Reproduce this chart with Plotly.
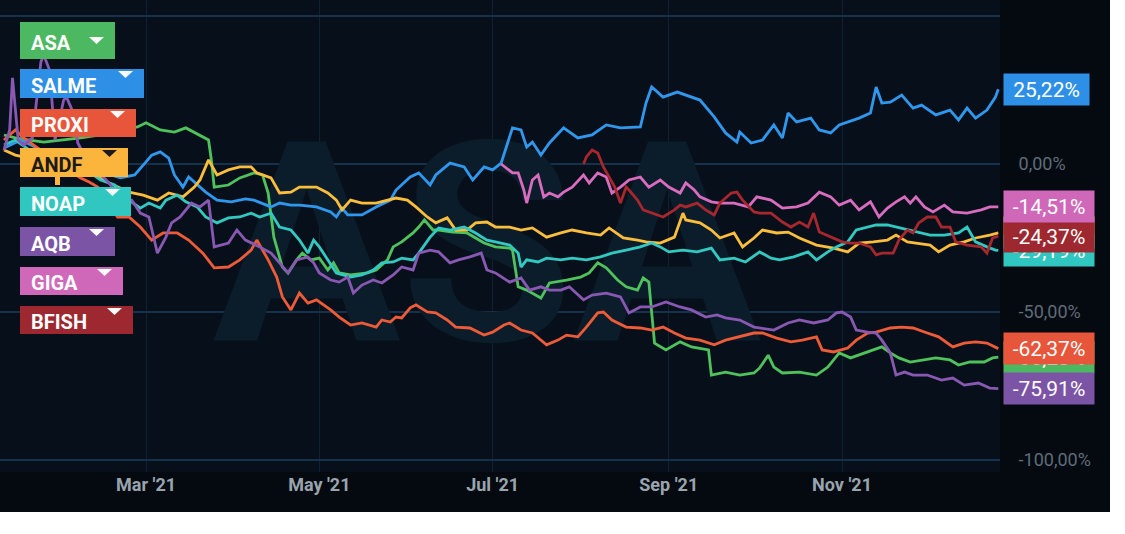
import plotly.graph_objects as go
import pandas as pd

BASE = pd.Timestamp("2021-01-01")

# ---------------- data (day-of-year offsets from 2021-01-01, % change) ----------------
asa_day = [9,13,18,23,29,36,43,50,56,59,64,69,73,78,81,82,83,88,92,97,100,102,103,104,107,109,112,114,117,120,
           123,125,127,131,137,140,144,146,149,153,155,157,160,162,167,172,178,182,187,188,190,193,198,201,207,212,
           215,218,221,225,228,232,234,236,237,238,242,247,251,257,258,263,268,273,275,278,280,283,289,295,299,303,
           307,310,315,318,321,324,328,332,337,342,345,349,354,357,359]
asa_val = [9.8,8.8,8.1,7.4,8.1,8.8,9.8,11.5,12.5,13.9,11.5,10.8,12.2,9.8,8.1,1.4,-7.8,-7.1,-4.7,-3.0,-3.7,-9.8,
           -16.6,-24.7,-34.8,-36.8,-32.4,-30.1,-32.4,-31.8,-35.8,-33.4,-36.8,-37.5,-36.8,-35.8,-32.4,-28.0,-26.3,-23.3,
           -21.3,-18.9,-22.3,-22.3,-23.0,-23.3,-26.7,-28.0,-28.4,-29.1,-41.5,-42.6,-45.3,-40.2,-39.2,-38.2,-36.8,-33.4,
           -35.1,-39.2,-41.5,-42.6,-38.5,-39.9,-50.3,-60.5,-62.8,-60.1,-61.8,-62.8,-71.3,-70.3,-71.3,-70.6,-68.9,-64.6,
           -68.6,-70.6,-70.3,-71.3,-68.6,-63.8,-65.5,-64.5,-62.8,-61.8,-63.8,-65.5,-66.9,-66.2,-65.5,-66.2,-67.9,-66.9,
           -66.9,-65.5,-65.23]

salme_day = [9,15,22,29,36,43,50,55,59,61,64,67,69,72,74,77,80,84,89,94,97,103,106,110,113,119,124,126,128,130,
             135,140,145,147,152,155,159,161,166,171,174,178,181,184,186,188,191,193,195,198,201,206,211,216,221,226,
             233,235,237,241,246,249,254,259,263,267,268,272,276,280,283,285,288,293,296,300,303,310,314,316,318,321,
             325,329,332,337,342,345,348,351,355,358,359]
salme_val = [5.4,8.1,4.7,2.0,-0.3,-2.7,-4.7,-3.7,0.7,3.0,4.1,2.0,-3.7,-7.8,-4.4,-7.1,-9.5,-12.2,-12.8,-11.8,-12.2,
             -14.5,-13.2,-13.9,-13.9,-14.5,-16.2,-17.9,-14.9,-17.2,-17.2,-14.5,-12.2,-8.8,-4.4,-3.0,-7.1,-3.7,0.3,-1.0,
             -5.4,-1.0,-2.0,0.3,6.4,12.2,11.5,5.7,7.4,3.0,7.1,12.2,8.8,9.8,13.2,12.2,12.5,20.6,26.0,22.6,24.3,23.3,21.6,
             15.9,10.5,7.4,10.8,7.1,8.1,13.2,8.8,17.2,14.2,15.5,11.5,10.5,13.2,15.5,17.2,26.0,20.6,20.9,23.3,18.9,19.9,
             16.6,18.2,14.9,18.9,15.5,18.2,22.6,25.22]

proxi_day = [9,13,16,22,29,36,39,42,46,49,53,57,61,65,70,74,79,83,88,92,96,98,102,105,107,110,113,116,119,124,
             127,131,135,140,142,145,147,149,152,154,158,161,165,168,173,178,181,185,187,191,195,200,204,207,211,214,
             218,220,223,228,233,237,241,245,249,254,259,263,268,273,276,281,286,290,295,297,301,306,309,313,316,321,
             325,329,334,338,343,347,351,355,359]
proxi_val = [8.1,11.5,8.8,4.7,-0.3,-4.7,-6.1,-7.8,-13.9,-17.9,-17.9,-21.3,-25.7,-23.3,-23.3,-25.7,-30.1,-35.1,-34.8,
             -32.4,-29.1,-25.7,-32.4,-38.2,-44.9,-49.3,-43.6,-47.0,-45.9,-49.3,-51.7,-54.4,-53.7,-55.1,-52.7,-53.4,-51.7,
             -52.0,-48.6,-47.6,-50.0,-50.3,-52.7,-55.1,-55.4,-57.8,-56.8,-54.4,-53.7,-56.1,-57.1,-61.1,-59.5,-57.8,-58.4,
             -55.1,-50.3,-50.0,-52.7,-55.1,-55.4,-56.1,-55.1,-57.1,-58.8,-59.5,-61.1,-59.5,-58.4,-57.1,-57.1,-58.8,-60.1,
             -59.5,-58.4,-62.8,-63.5,-62.2,-59.5,-57.1,-56.8,-55.4,-55.1,-55.4,-57.1,-58.4,-61.8,-60.5,-60.1,-60.5,-62.37]

andf_day = [9,13,18,25,32,39,46,53,58,63,67,72,76,78,81,84,88,92,96,98,103,106,110,113,119,123,126,128,131,135,
            140,144,147,151,154,158,161,165,168,172,175,179,182,187,191,195,200,205,209,214,219,222,227,232,235,240,
            245,248,249,254,258,261,266,269,273,276,281,285,289,295,301,306,310,315,320,323,327,330,335,338,342,347,
            351,356,359]
andf_val = [4.7,3.0,2.0,0.7,-0.3,-2.7,-6.4,-9.5,-10.5,-12.2,-9.8,-11.1,-7.8,-5.4,1.4,-3.7,-2.0,-1.0,-1.0,-3.0,-4.7,
            -9.8,-9.5,-7.8,-7.8,-9.8,-12.2,-15.5,-12.2,-13.2,-13.2,-12.2,-11.5,-12.2,-14.5,-17.9,-19.9,-18.2,-22.3,-22.3,
            -19.9,-19.6,-21.3,-21.3,-22.3,-21.6,-24.7,-23.3,-22.3,-23.3,-24.0,-21.6,-25.0,-25.7,-26.3,-26.7,-24.7,-16.6,
            -18.9,-19.9,-22.3,-25.0,-23.3,-28.0,-25.0,-22.3,-23.3,-23.0,-25.0,-27.4,-28.4,-29.7,-26.7,-26.3,-25.7,-24.0,
            -26.3,-26.7,-27.4,-29.7,-27.4,-26.3,-25.0,-24.0,-23.3]

noap_day = [9,13,18,25,32,39,43,48,53,57,60,64,66,70,73,77,80,84,88,92,96,99,103,106,110,113,116,118,120,123,
            126,131,135,139,142,146,149,153,155,159,162,166,171,175,179,182,187,190,191,193,197,200,205,209,214,219,
            223,228,233,237,240,243,248,253,258,261,266,270,275,279,282,287,292,295,299,302,306,309,313,316,320,323,
            327,330,335,340,345,348,351,355,358,359]
noap_val = [6.4,8.1,4.7,2.0,-0.3,-2.7,-5.4,-7.1,-12.2,-14.9,-13.2,-14.9,-12.2,-10.5,-12.8,-14.5,-17.9,-19.9,-18.2,
            -17.9,-16.6,-17.9,-16.6,-21.3,-22.3,-25.7,-30.1,-25.7,-28.0,-32.4,-36.8,-38.2,-37.5,-35.8,-33.4,-33.1,-31.8,
            -32.4,-30.1,-24.7,-21.6,-22.3,-21.3,-23.3,-25.7,-26.3,-27.4,-30.1,-34.8,-32.4,-33.1,-31.8,-32.4,-31.8,-32.4,
            -31.4,-30.1,-29.1,-28.0,-26.7,-28.0,-29.7,-29.1,-29.7,-28.4,-32.4,-31.8,-33.1,-29.7,-31.8,-32.4,-31.4,-29.7,
            -32.4,-29.7,-28.0,-26.3,-22.3,-21.3,-20.6,-20.6,-21.3,-22.3,-23.0,-24.0,-24.0,-23.3,-21.3,-26.3,-28.0,-29.1,
            -29.19]

aqb_day = [9,11,12,14,16,19,22,23,25,27,30,31,33,35,39,45,48,52,54,57,60,63,66,68,71,73,75,78,81,83,88,91,94,99,
           103,106,109,112,116,118,120,124,127,130,132,135,139,142,146,149,153,155,159,162,166,169,173,177,179,182,
           187,191,194,198,201,205,208,213,216,221,226,229,233,237,242,247,251,256,260,263,268,273,275,280,285,289,
           294,299,302,304,307,309,313,316,318,321,323,326,329,334,339,343,347,352,356,359]
aqb_val = [4.7,11.5,29.1,8.1,6.4,8.8,34.5,36.8,31.8,8.1,21.6,22.6,18.2,7.1,-0.3,-5.4,-8.8,-12.2,-12.2,-16.6,-17.9,
           -30.1,-24.7,-19.9,-17.9,-15.5,-13.2,-14.5,-12.2,-28.0,-26.7,-22.3,-25.7,-28.0,-30.1,-33.4,-36.8,-32.4,-31.4,
           -33.4,-36.8,-39.2,-39.9,-38.2,-43.6,-40.9,-39.2,-40.2,-37.5,-34.8,-35.8,-30.1,-29.1,-29.7,-33.4,-32.4,-31.4,
           -30.1,-35.8,-36.8,-39.9,-38.5,-42.6,-41.5,-42.6,-42.6,-41.5,-45.9,-44.3,-43.6,-44.9,-50.3,-48.3,-48.3,-46.6,
           -48.3,-49.3,-51.7,-51.0,-52.0,-52.7,-55.1,-55.4,-56.1,-53.7,-52.7,-53.7,-52.7,-50.3,-50.0,-51.7,-56.1,-56.8,
           -57.1,-59.5,-63.8,-71.3,-70.3,-71.3,-71.3,-73.0,-72.3,-74.7,-74.0,-75.7,-75.91]

giga_day = [184,186,188,190,192,193,195,197,199,201,204,206,209,213,215,218,221,223,226,229,233,236,240,243,247,
            249,252,254,258,261,266,271,274,279,283,288,292,296,300,303,307,310,314,317,320,323,326,328,330,333,336,
            340,343,348,353,356,359]
giga_val = [0.0,-1.4,-3.0,-3.0,-8.8,-13.2,-5.4,-3.7,-11.1,-9.8,-11.1,-9.5,-7.8,-3.7,-6.4,-3.0,-4.4,-9.8,-7.8,-5.4,
            -4.4,-7.8,-5.4,-7.8,-9.8,-6.4,-8.8,-11.1,-12.8,-13.2,-13.2,-14.5,-11.1,-12.2,-14.9,-14.5,-13.2,-9.5,-11.1,
            -13.9,-12.2,-15.5,-12.8,-17.9,-14.9,-12.8,-11.1,-13.2,-11.1,-14.5,-16.2,-13.9,-16.2,-16.6,-15.5,-14.5,-14.51]

bfish_day = [213,214,216,218,220,222,224,226,228,229,232,234,237,241,245,247,249,253,256,259,261,265,267,269,273,
             275,279,283,286,289,292,294,296,301,304,307,310,314,316,318,322,324,327,329,331,334,337,339,342,344,348,
             353,355,357,359]
bfish_val = [0.0,2.4,4.7,3.7,-1.0,-4.4,-7.8,-13.2,-7.8,-8.8,-12.2,-15.5,-16.6,-17.9,-15.5,-13.9,-14.5,-13.2,-15.5,
             -17.2,-13.2,-9.8,-9.5,-12.2,-16.2,-16.6,-16.6,-19.6,-21.3,-19.6,-21.3,-16.6,-23.0,-25.0,-26.3,-26.7,-26.7,
             -28.0,-30.7,-30.1,-30.1,-25.7,-22.3,-23.3,-19.9,-17.9,-17.9,-21.3,-21.3,-26.3,-27.4,-28.0,-30.1,-25.0,-24.37]

names = ["ASA", "SALME", "PROXI", "ANDF", "NOAP", "AQB", "GIGA", "BFISH"]
colors = ["#4fc25c", "#2f98ee", "#ee5b38", "#fbbd3c", "#31c9c1", "#8858b2", "#d96cbf", "#a6272d"]
box_colors = ["#4cb862", "#2d8fe6", "#e7553a", "#fbb53c", "#30c7c0", "#7b54a6", "#d068b9", "#9e2830"]
label_text_colors = ["white", "white", "white", "#1b1b1b", "white", "white", "white", "white"]
series = [(asa_day, asa_val), (salme_day, salme_val), (proxi_day, proxi_val), (andf_day, andf_val),
          (noap_day, noap_val), (aqb_day, aqb_val), (giga_day, giga_val), (bfish_day, bfish_val)]

y_ticks = [50, 0, -50, -100]
y_ticktext = ["", "0,00%", "-50,00%", "-100,00%"]
x_ticks = ["2021-03-01", "2021-05-01", "2021-07-01", "2021-09-01", "2021-11-01"]
x_ticktext = ["Mar '21", "May '21", "Jul '21", "Sep '21", "Nov '21"]


def to_dates(days):
    return [BASE + pd.Timedelta(days=d) for d in days]


# ---------------- layout helpers (pixel -> paper) ----------------
W_PLOT, H_PLOT = 1000, 472


def px(x):
    return x / W_PLOT


def py(y):
    return (H_PLOT - y) / H_PLOT


fig = go.Figure()

# watermark
fig.add_trace(go.Scatter(
    x=[BASE + pd.Timedelta(days=179)], y=[-36], mode="text", text=["ASA"],
    textposition="middle center",
    textfont=dict(size=280, color="#0b1c2a", family="Roboto", weight="bold"),
    hoverinfo="skip", showlegend=False))

for (d, v), n, c in zip(series, names, colors):
    m = min(len(d), len(v))
    fig.add_trace(go.Scatter(x=to_dates(d[:m]), y=v[:m], mode="lines", name=n,
                             line=dict(color=c, width=2.8), hoverinfo="skip", showlegend=False))

shapes = []
annotations = []

# legend boxes (pixel rects)
legend_boxes = {
    "ASA": (20, 115, 22, 59),
    "SALME": (20, 144, 69, 98),
    "PROXI": (20, 136, 109, 137),
    "ANDF": (20, 128, 148, 177),
    "NOAP": (20, 131, 187, 216),
    "AQB": (20, 115, 227, 256),
    "GIGA": (20, 123, 267, 295),
    "BFISH": (20, 133, 306, 334),
}
for i, n in enumerate(names):
    x0, x1, y0, y1 = legend_boxes[n]
    shapes.append(dict(type="rect", xref="paper", yref="paper", x0=px(x0), x1=px(x1), y0=py(y0), y1=py(y1),
                       fillcolor=box_colors[i], line=dict(width=0), layer="above"))
    tc = label_text_colors[i]
    if n == "ASA":
        tx0, tx1, ty0, ty1 = 89, 104, 37, 44
    else:
        tx0, tx1, ty0, ty1 = x1 - 26, x1 - 11, y0 + 2, y0 + 9
    path = f"M {px(tx0)},{py(ty0)} L {px(tx1)},{py(ty0)} L {px((tx0 + tx1) / 2)},{py(ty1)} Z"
    shapes.append(dict(type="path", xref="paper", yref="paper", path=path,
                       fillcolor=tc, line=dict(width=0), layer="above"))
    annotations.append(dict(xref="paper", yref="paper", x=px(29), y=py((y0 + y1) / 2 + 2),
                            xanchor="left", yanchor="middle", text=f"<b>{n}</b>", showarrow=False,
                            font=dict(family="Roboto", size=20, color=tc)))
# small pointer under ANDF box
shapes.append(dict(type="rect", xref="paper", yref="paper", x0=px(55), x1=px(60), y0=py(176), y1=py(185),
                   fillcolor=box_colors[3], line=dict(width=0), layer="above"))

# white margins of the screenshot
shapes.append(dict(type="rect", xref="paper", yref="paper", x0=px(-5), x1=px(1135), y0=py(512), y1=py(545),
                   fillcolor="white", line=dict(width=0), layer="above"))
shapes.append(dict(type="rect", xref="paper", yref="paper", x0=px(1110), x1=px(1135), y0=py(-5), y1=py(545),
                   fillcolor="white", line=dict(width=0), layer="above"))

# end value labels (drawing order sets overlap)
label_order = ["ANDF", "NOAP", "BFISH", "GIGA", "ASA", "PROXI", "AQB", "SALME"]
for n in label_order:
    i = names.index(n)
    last = series[i][1][-1]
    txt = f"{last:.2f}".replace(".", ",") + "%"
    w = 79 if last >= 0 else 84
    annotations.append(dict(xref="paper", yref="y", x=px(1003), y=last, xanchor="left", yanchor="middle",
                            text=txt, showarrow=False, bgcolor=box_colors[i], borderpad=3,
                            width=w, height=25, align="center",
                            font=dict(family="Roboto", size=21, color="white")))

fig.update_layout(
    width=1125, height=534,
    margin=dict(l=0, r=125, t=0, b=534 - H_PLOT, pad=0),
    paper_bgcolor="#040a10",
    plot_bgcolor="#07101a",
    showlegend=False,
    shapes=shapes,
    annotations=annotations,
    xaxis=dict(
        type="date",
        range=[BASE + pd.Timedelta(days=7.6), BASE + pd.Timedelta(days=359.6)],
        tickvals=x_ticks, ticktext=x_ticktext,
        showgrid=True, gridcolor="#0f2232", gridwidth=1,
        zeroline=False, showline=False,
        ticks="",
        tickfont=dict(family="Roboto", size=18, color="#9aa4ae", weight="bold"),
        fixedrange=True,
    ),
    yaxis=dict(
        side="right",
        range=[(164 - H_PLOT) / 2.96, 164 / 2.96],
        tickvals=y_ticks, ticktext=y_ticktext,
        showgrid=True, gridcolor="#15324a", gridwidth=2,
        zeroline=False, showline=False,
        ticks="outside", ticklen=14, tickcolor="rgba(0,0,0,0)",
        tickfont=dict(family="Roboto", size=18, color="#5f6c78"),
        fixedrange=True,
    ),
)

fig.write_html("out.html")
